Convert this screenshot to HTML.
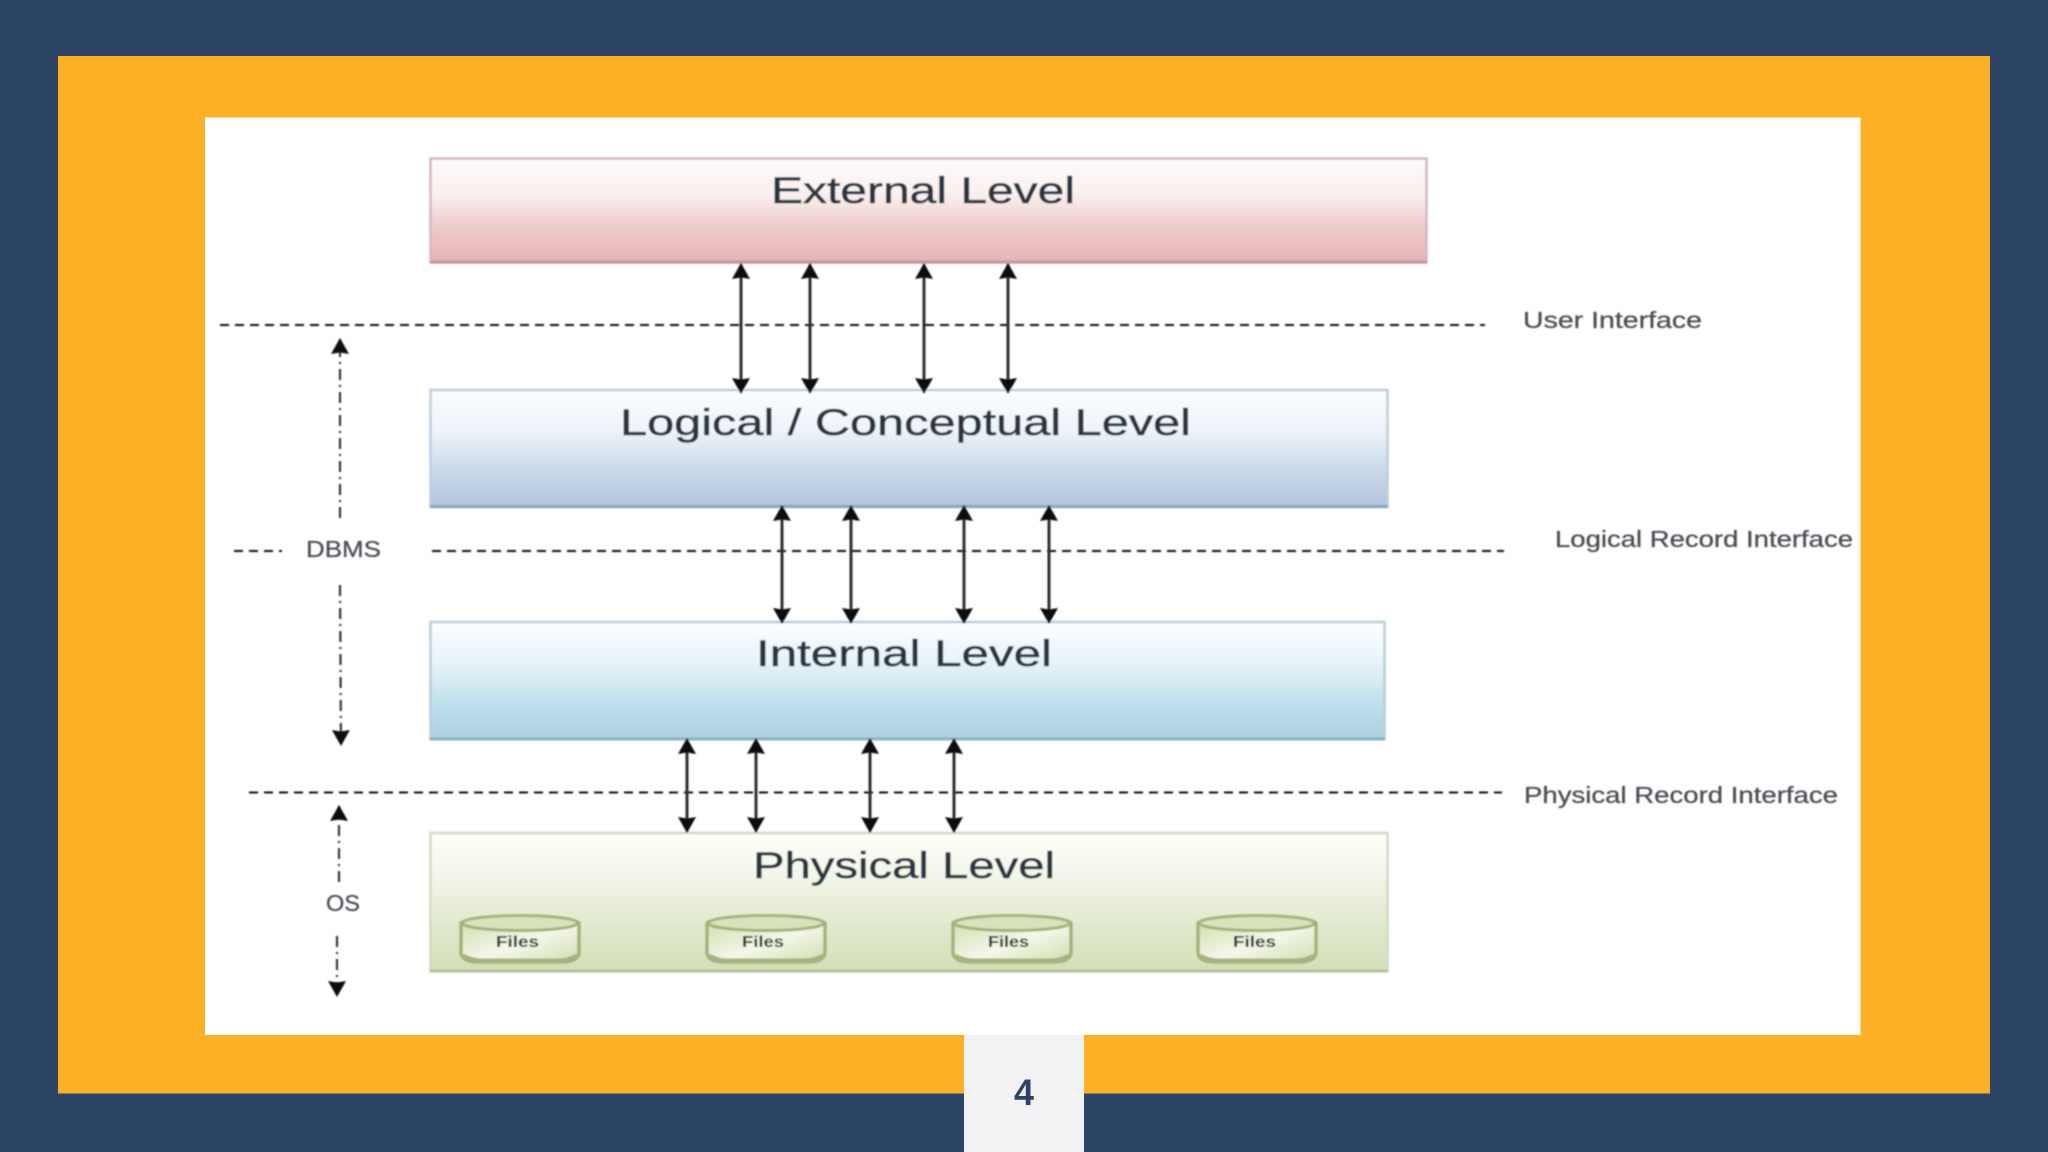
<!DOCTYPE html>
<html><head><meta charset="utf-8"><style>
html,body{margin:0;padding:0;background:#2c4566}
svg{display:block}
text{font-family:"Liberation Sans",sans-serif}
</style></head><body>
<svg width="2048" height="1152" viewBox="0 0 2048 1152" xmlns="http://www.w3.org/2000/svg">
<defs>
<linearGradient id="p" x1="0" y1="0" x2="0" y2="1"><stop offset="0" stop-color="#fffafa"/><stop offset=".35" stop-color="#f8f0ee"/><stop offset=".68" stop-color="#ecc9c7"/><stop offset="1" stop-color="#e5b3b4"/></linearGradient>
<linearGradient id="b" x1="0" y1="0" x2="0" y2="1"><stop offset="0" stop-color="#fbfdff"/><stop offset=".35" stop-color="#eef3f9"/><stop offset=".68" stop-color="#c9d9e9"/><stop offset="1" stop-color="#b2c6df"/></linearGradient>
<linearGradient id="c" x1="0" y1="0" x2="0" y2="1"><stop offset="0" stop-color="#fdfefe"/><stop offset=".35" stop-color="#e6f3f8"/><stop offset=".68" stop-color="#c2e0ec"/><stop offset="1" stop-color="#a9d0e1"/></linearGradient>
<linearGradient id="g" x1="0" y1="0" x2="0" y2="1"><stop offset="0" stop-color="#fefefb"/><stop offset=".3" stop-color="#f3f6e9"/><stop offset=".7" stop-color="#dfe8cb"/><stop offset="1" stop-color="#d3dfb8"/></linearGradient>
<linearGradient id="f" x1="0" y1="0" x2="1" y2="1"><stop offset="0" stop-color="#d0dbac"/><stop offset=".55" stop-color="#f4f7e8"/><stop offset="1" stop-color="#cfdcb0"/></linearGradient>
<filter id="s" x="-2%" y="-2%" width="104%" height="104%"><feGaussianBlur stdDeviation="0.9"/></filter>
<marker id="a" markerUnits="userSpaceOnUse" markerWidth="18" markerHeight="20" refX="15" refY="10" orient="auto-start-reverse"><path d="M0 1L16 10L0 19L1.500 10Z" fill="#0c0c0c"/></marker>
<g id="cy">
<path d="M0 9C0 2 118 2 118 9V38Q118 48 100 48H18Q0 48 0 38Z" fill="url(#f)" stroke="#a3b27a" stroke-width="3.500"/>
<path d="M2 42Q10 47 22 47H96Q108 47 116 42" fill="none" stroke="#a5b47c" stroke-width="5"/>
<ellipse cx="59" cy="9" rx="58" ry="7.500" fill="#d8e2bc" stroke="#a3b27a" stroke-width="3"/>
</g>
</defs>

<rect width="2048" height="1152" fill="#2c4566"/>
<rect x="58" y="56" width="1932" height="1037.500" fill="#feb126"/>
<rect x="205" y="117.500" width="1655.500" height="917.500" fill="#fff"/>
<rect x="964" y="1035" width="120" height="117" fill="#f2f2f4"/>
<text x="1024" y="1105" text-anchor="middle" font-size="37" font-weight="700" fill="#2c4566" textLength="20" lengthAdjust="spacingAndGlyphs">4</text>

<g filter="url(#s)">
<rect x="430.500" y="158.500" width="996" height="104" fill="url(#p)" stroke="#d4b8c0" stroke-width="2.500"/>
<line x1="430" y1="262" x2="1427" y2="262" stroke="#c0979d" stroke-width="3"/>
<rect x="430.500" y="390" width="957" height="117" fill="url(#b)" stroke="#c0ccd9" stroke-width="2.500"/>
<line x1="430" y1="506.500" x2="1388" y2="506.500" stroke="#8fa2bc" stroke-width="3"/>
<rect x="430.500" y="622" width="954" height="117" fill="url(#c)" stroke="#b8ced5" stroke-width="2.500"/>
<line x1="430" y1="739" x2="1385" y2="739" stroke="#8cb1c3" stroke-width="3"/>
<rect x="430.500" y="833" width="957" height="138" fill="url(#g)" stroke="#d2d9c2" stroke-width="2.500"/>
<line x1="430" y1="971" x2="1388" y2="971" stroke="#b4bf9d" stroke-width="3"/>

<use href="#cy" x="461" y="914"/>
<use href="#cy" x="707" y="914"/>
<use href="#cy" x="953" y="914"/>
<use href="#cy" x="1198" y="914"/>

<g fill="#2b3640" stroke="#2b3640" stroke-width=".5" font-size="37">
<text x="771" y="203" textLength="304" lengthAdjust="spacingAndGlyphs">External Level</text>
<text x="620" y="435" textLength="571" lengthAdjust="spacingAndGlyphs">Logical / Conceptual Level</text>
<text x="756" y="666" textLength="296" lengthAdjust="spacingAndGlyphs">Internal Level</text>
<text x="753" y="878" textLength="302" lengthAdjust="spacingAndGlyphs">Physical Level</text>
</g>
<g fill="#4a4e54" stroke="#4a4e54" stroke-width=".3" font-size="23">
<text x="306" y="557" textLength="75" lengthAdjust="spacingAndGlyphs">DBMS</text>
<text x="326" y="911" textLength="34" lengthAdjust="spacingAndGlyphs">OS</text>
<text x="1523" y="328" textLength="179" lengthAdjust="spacingAndGlyphs">User Interface</text>
<text x="1555" y="547" textLength="298" lengthAdjust="spacingAndGlyphs">Logical Record Interface</text>
<text x="1524" y="803" textLength="314" lengthAdjust="spacingAndGlyphs">Physical Record Interface</text>
</g>
<g fill="#2a2f30" font-size="16" font-weight="700">
<text x="496" y="947" textLength="43" lengthAdjust="spacingAndGlyphs">Files</text>
<text x="742" y="947" textLength="42" lengthAdjust="spacingAndGlyphs">Files</text>
<text x="988" y="947" textLength="41" lengthAdjust="spacingAndGlyphs">Files</text>
<text x="1233" y="947" textLength="43" lengthAdjust="spacingAndGlyphs">Files</text>
</g>

<g stroke="#111" stroke-width="2" fill="none" stroke-dasharray="9 6">
<line x1="220" y1="325" x2="1485" y2="325"/>
<line x1="234" y1="551" x2="282" y2="551"/>
<line x1="432" y1="551" x2="1504" y2="551"/>
<line x1="249" y1="792.500" x2="1502" y2="792.500"/>
</g>

<g stroke="#2e2e2e" stroke-width="3" fill="none">
<line x1="741" y1="264" x2="741" y2="393" marker-start="url(#a)" marker-end="url(#a)"/>
<line x1="810" y1="264" x2="810" y2="393" marker-start="url(#a)" marker-end="url(#a)"/>
<line x1="924" y1="264" x2="924" y2="393" marker-start="url(#a)" marker-end="url(#a)"/>
<line x1="1008" y1="264" x2="1008" y2="393" marker-start="url(#a)" marker-end="url(#a)"/>
<line x1="782" y1="506" x2="782" y2="623" marker-start="url(#a)" marker-end="url(#a)"/>
<line x1="851" y1="506" x2="851" y2="623" marker-start="url(#a)" marker-end="url(#a)"/>
<line x1="964" y1="506" x2="964" y2="623" marker-start="url(#a)" marker-end="url(#a)"/>
<line x1="1049" y1="506" x2="1049" y2="623" marker-start="url(#a)" marker-end="url(#a)"/>
<line x1="687" y1="739" x2="687" y2="832" marker-start="url(#a)" marker-end="url(#a)"/>
<line x1="756" y1="739" x2="756" y2="832" marker-start="url(#a)" marker-end="url(#a)"/>
<line x1="870" y1="739" x2="870" y2="832" marker-start="url(#a)" marker-end="url(#a)"/>
<line x1="954" y1="739" x2="954" y2="832" marker-start="url(#a)" marker-end="url(#a)"/>
</g>

<g stroke="#333" stroke-width="2.200" fill="none" stroke-dasharray="11 5 2 5">
<line x1="340" y1="518" x2="340" y2="339" marker-end="url(#a)"/>
<line x1="340" y1="585" x2="341" y2="745" marker-end="url(#a)"/>
<line x1="339" y1="882" x2="339" y2="806" marker-end="url(#a)"/>
<line x1="337" y1="936" x2="337" y2="996" marker-end="url(#a)"/>
</g>
</g>
</svg>
</body></html>
